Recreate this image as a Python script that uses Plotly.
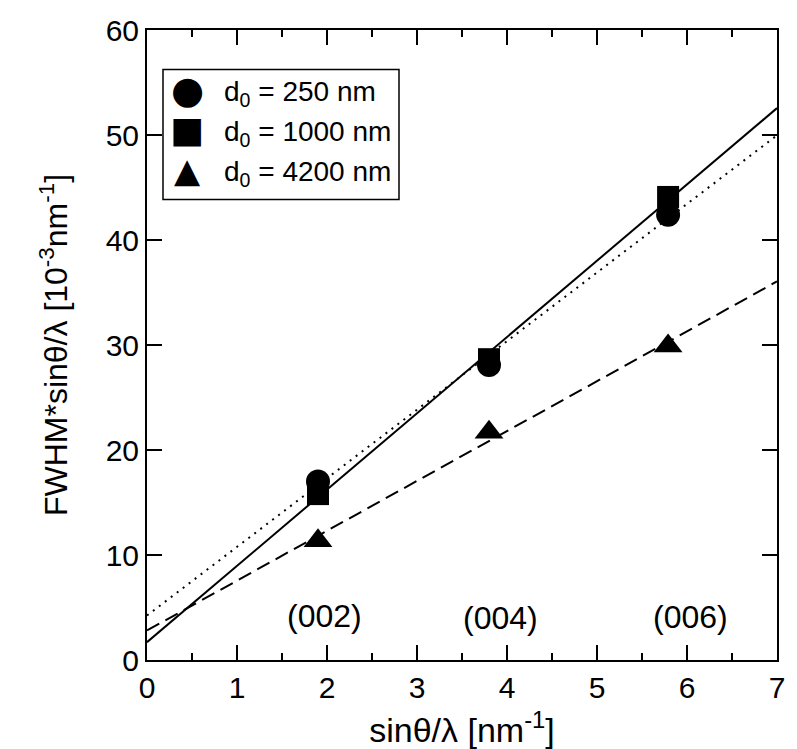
import plotly.graph_objects as go

# ---- data ----
x_pos = [1.9, 3.8, 5.79]
y_250 = [17.0, 28.1, 42.4]
y_1000 = [15.8, 28.65, 44.1]
y_4200 = [11.35, 21.7, 29.9]

fit_x = [0, 7]
fit_250 = [4.24, 49.97]
fit_1000 = [1.70, 52.56]
fit_4200 = [2.81, 36.05]

refl_labels = ["(002)", "(004)", "(006)"]
refl_x = [1.97, 3.93, 6.04]
refl_y = [4.2, 4.0, 4.1]

series_names = ["d<sub>0</sub> = 250 nm", "d<sub>0</sub> = 1000 nm", "d<sub>0</sub> = 4200 nm"]
legend_glyphs = ["●", "■", "▲"]

FONT = "Liberation Sans, Arial, sans-serif"

fig = go.Figure()

# fit lines
fig.add_trace(go.Scatter(x=fit_x, y=fit_250, mode="lines", showlegend=False,
                         line=dict(color="black", width=2, dash="2px,5.5px")))
fig.add_trace(go.Scatter(x=fit_x, y=fit_1000, mode="lines", showlegend=False,
                         line=dict(color="black", width=2)))
fig.add_trace(go.Scatter(x=fit_x, y=fit_4200, mode="lines", showlegend=False,
                         line=dict(color="black", width=2, dash="14px,7px")))

# data points
fig.add_trace(go.Scatter(x=x_pos, y=y_250, mode="markers", name=series_names[0], showlegend=False,
                         marker=dict(symbol="circle", size=24, color="black", line=dict(width=0))))
fig.add_trace(go.Scatter(x=x_pos, y=y_1000, mode="markers", name=series_names[1], showlegend=False,
                         marker=dict(symbol="square", size=22, color="black", line=dict(width=0))))
fig.add_trace(go.Scatter(x=x_pos, y=y_4200, mode="markers", name=series_names[2], showlegend=False,
                         marker=dict(symbol="triangle-up", size=25, color="black", line=dict(width=0))))

# reflection labels
for lab, xx, yy in zip(refl_labels, refl_x, refl_y):
    fig.add_annotation(x=xx, y=yy, xref="x", yref="y", text=lab, showarrow=False,
                       font=dict(family=FONT, size=32, color="black"),
                       xanchor="center", yanchor="middle")

# custom legend (box + symbols + text)
leg_x0, leg_x1, leg_y0, leg_y1 = 0.0254, 0.40, 0.731, 0.9373
fig.add_shape(type="rect", xref="paper", yref="paper", x0=leg_x0, x1=leg_x1, y0=leg_y0, y1=leg_y1,
              line=dict(color="black", width=1.5), fillcolor="white", layer="above")
row_y = [0.899, 0.836, 0.772]
glyph_sizes = [38, 36, 34]
for g, gs, nm, ry in zip(legend_glyphs, glyph_sizes, series_names, row_y):
    fig.add_annotation(x=0.0635, y=ry + 0.006, xref="paper", yref="paper", text=g, showarrow=False,
                       font=dict(family="DejaVu Sans", size=gs, color="black"),
                       xanchor="center", yanchor="middle")
    fig.add_annotation(x=0.119, y=ry, xref="paper", yref="paper", text=nm, showarrow=False,
                       font=dict(family=FONT, size=28, color="black"),
                       xanchor="left", yanchor="middle")

axis_common = dict(showline=True, linecolor="black", linewidth=2, mirror="allticks",
                   ticks="inside", ticklen=15, tickwidth=2, tickcolor="black",
                   showgrid=False, zeroline=False, automargin=False,
                   tickfont=dict(family=FONT, size=30, color="black"))

fig.update_xaxes(range=[0, 7], dtick=1, tick0=0,
                 minor=dict(dtick=0.5, ticks="inside", ticklen=7, tickwidth=2, tickcolor="black"),
                 title=dict(text="sinθ/λ [nm<sup>-1</sup>]", standoff=26,
                            font=dict(family=FONT, size=34, color="black")),
                 **axis_common)
fig.update_yaxes(range=[0, 60], dtick=10, tick0=0,
                 title=dict(text="FWHM*sinθ/λ [10<sup>-3</sup>nm<sup>-1</sup>]", standoff=28,
                            font=dict(family=FONT, size=32, color="black")),
                 **axis_common)

fig.update_layout(width=797, height=749, autosize=False,
                  margin=dict(l=147, r=20, t=30, b=89, pad=0),
                  paper_bgcolor="white", plot_bgcolor="white",
                  font=dict(family=FONT, color="black"))

fig.write_html("out.html")
